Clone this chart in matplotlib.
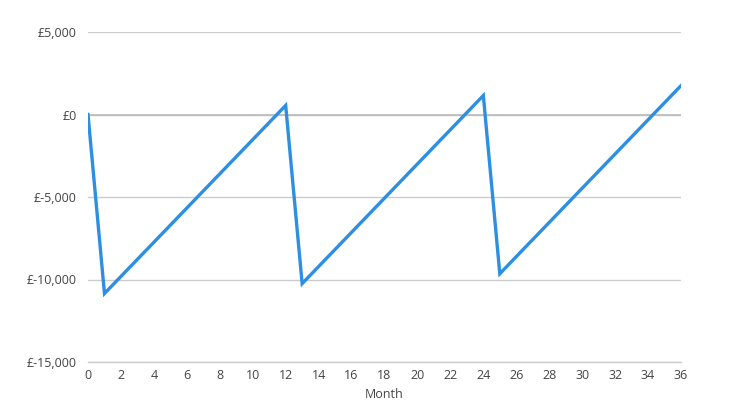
import matplotlib
matplotlib.use("Agg")
import matplotlib.pyplot as plt
from matplotlib.ticker import FuncFormatter

# breakpoints of the cumulative balance line (straight between them)
months = [0, 1, 12, 13, 24, 25, 36]
balance = [0, -10850, 550, -10250, 1150, -9650, 1750]

y_ticks = [-15000, -10000, -5000, 0, 5000]
x_ticks = list(range(0, 37, 2))

plt.rcParams["font.family"] = ["Open Sans", "DejaVu Sans"]

fig = plt.figure(figsize=(7.33, 4.05), dpi=100)
ax = fig.add_axes([88 / 733, 1 - 362 / 405, (681 - 88) / 733, (362 - 32) / 405])

ax.plot(months, balance, color="#2d8fe2", linewidth=2.4, solid_joinstyle="miter", zorder=3)

ax.set_xlim(0, 36)
ax.set_ylim(-15000, 5000)
ax.set_xticks(x_ticks)
ax.set_yticks(y_ticks)
ax.yaxis.set_major_formatter(FuncFormatter(lambda v, _: f"£{int(v):,}"))

ax.grid(axis="y", color="#cccccc", linewidth=1)
ax.axhline(0, color="#bbbbbb", linewidth=1.2, zorder=2)
ax.axhline(-15000, color="#cccccc", linewidth=1, clip_on=False, zorder=2)
for side in ["top", "right", "left", "bottom"]:
    ax.spines[side].set_visible(False)
ax.tick_params(axis="both", length=0, labelsize=9, colors="#444444")
ax.tick_params(axis="y", pad=8)
ax.tick_params(axis="x", pad=5)

ax.set_xlabel("Month", fontsize=9, color="#444444", labelpad=4)

fig.savefig("out.png", dpi=100)
